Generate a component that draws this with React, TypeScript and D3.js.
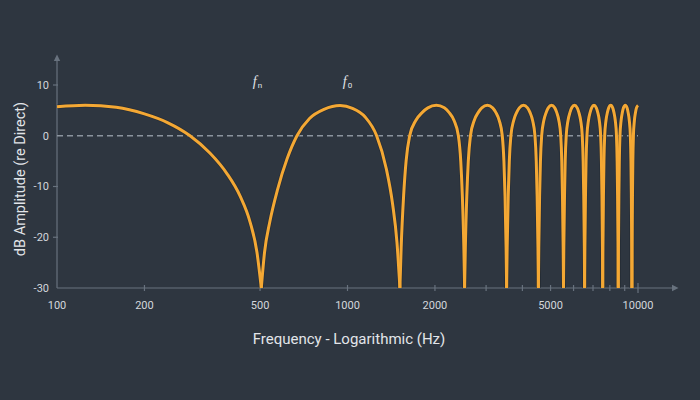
import { useRef, useEffect } from "react";
import * as d3 from "d3";

const W = 700;
const H = 400;
const BG = "#2e3640";
const CURVE = "#f4a834";
const AXIS = "#68727e";
const TEXT = "#d3d7dc";
const FONT = "Roboto, 'DejaVu Sans', sans-serif";

// first half lobe, 100 Hz down to the first null
const LOBE1_HZ = [100, 125, 160, 200, 240, 287, 336, 384, 427, 462, 488, 505];
const LOBE1_DB = [5.7, 6.0, 5.6, 4.3, 2.6, 0, -3.4, -7.4, -11.9, -17, -23, -30];

// second lobe (f0 peak)
const LOBE2_HZ = [505, 518, 540, 575, 620, 670, 740, 830, 943, 1040, 1150, 1260, 1360, 1430, 1480, 1515];
const LOBE2_DB = [-30, -23, -17, -10.5, -4.5, 0, 3.4, 5.2, 5.95, 5.4, 3.7, 0, -6.5, -13.5, -21, -30];

// nulls bounding the narrow lobes above 1.5 kHz
const NULLS_HZ = [1515, 2530, 3530, 4540, 5540, 6550, 7560, 8550, 9530];
// shape of one narrow lobe: position between two nulls (0..1) and level in dB
const LOBE_POS = [0, 0.015, 0.045, 0.075, 0.12, 0.2, 0.29, 0.37, 0.5, 0.63, 0.71, 0.8, 0.88, 0.925, 0.955, 0.985, 1];
const LOBE_DB = [-30, -22, -11.7, -5, 0, 3, 4.6, 5.5, 6, 5.5, 4.6, 3, 0, -5, -11.7, -22, -30];

// last half lobe up to 10 kHz
const LAST_HZ = [9530, 9544, 9572, 9600, 9643, 9718, 9803, 9878, 10000];
const LAST_DB = [-30, -22, -11.7, -5, 0, 3, 4.6, 5.5, 6];

const Y_TICKS = [10, 0, -10, -20, -30];
const Y_MARKS = [10, -10, -20];
const X_LABELS = [100, 200, 500, 1000, 2000, 5000, 10000];
const X_MARKS = [200, 500, 1000, 2000, 3000, 4000, 5000, 6000, 7000, 8000, 9000, 10000];

const MARKERS = [
  { hz: 490, sub: "n" },
  { hz: 1000, sub: "0" },
];

type Pt = [number, number];

const zip = (hz: number[], db: number[]): Pt[] => hz.map((f, i) => [f, db[i]]);

export default function App() {
  const svgRef = useRef<SVGSVGElement>(null);

  useEffect(() => {
    const svg = svgRef.current;
    if (!svg) return;
    const root = d3.select(svg);
    root.selectAll("*").remove();

    const x = d3.scaleLog().domain([100, 10000]).range([57, 638]);
    const y = d3.scaleLinear().domain([-30, 10]).range([288, 85]);
    const x0 = x.range()[0];
    const yBottom = y(-30);

    root.append("rect").attr("width", W).attr("height", H).attr("fill", BG);

    // axes
    root.append("line")
      .attr("x1", x0).attr("x2", x0)
      .attr("y1", yBottom).attr("y2", 60)
      .attr("stroke", AXIS).attr("stroke-width", 1.2);
    root.append("path")
      .attr("d", `M${x0 - 3.2},${61} L${x0},${54.5} L${x0 + 3.2},${61} Z`)
      .attr("fill", AXIS);

    root.append("line")
      .attr("x1", x0).attr("x2", 673)
      .attr("y1", yBottom).attr("y2", yBottom)
      .attr("stroke", AXIS).attr("stroke-width", 1.2);
    root.append("path")
      .attr("d", `M${672},${yBottom - 3.2} L${678.5},${yBottom} L${672},${yBottom + 3.2} Z`)
      .attr("fill", AXIS);

    // y ticks
    for (const t of Y_MARKS) {
      root.append("line")
        .attr("x1", x0 - 4).attr("x2", x0 + 1)
        .attr("y1", y(t)).attr("y2", y(t))
        .attr("stroke", AXIS).attr("stroke-width", 1.2);
    }
    for (const t of Y_TICKS) {
      root.append("text")
        .attr("x", 49)
        .attr("y", y(t))
        .attr("dy", "0.36em")
        .attr("text-anchor", "end")
        .attr("fill", TEXT)
        .attr("font-family", FONT)
        .attr("font-size", 11)
        .text(t);
    }

    // x ticks
    for (const t of X_MARKS) {
      const long = t === 10000;
      root.append("line")
        .attr("x1", x(t)).attr("x2", x(t))
        .attr("y1", yBottom - (long ? 5 : 3)).attr("y2", yBottom + (long ? 5 : 3))
        .attr("stroke", AXIS).attr("stroke-width", 1.2);
    }
    for (const t of X_LABELS) {
      root.append("text")
        .attr("x", x(t))
        .attr("y", 309)
        .attr("text-anchor", "middle")
        .attr("fill", TEXT)
        .attr("font-family", FONT)
        .attr("font-size", 11)
        .text(t);
    }

    // 0 dB reference
    root.append("line")
      .attr("x1", x0).attr("x2", x(10000))
      .attr("y1", y(0)).attr("y2", y(0))
      .attr("stroke", "#8b949e")
      .attr("stroke-width", 1.3)
      .attr("stroke-dasharray", "6,4");

    // axis titles
    root.append("text")
      .attr("x", 349)
      .attr("y", 344)
      .attr("text-anchor", "middle")
      .attr("fill", "#e2e5e9")
      .attr("font-family", FONT)
      .attr("font-size", 15)
      .text("Frequency - Logarithmic (Hz)");

    root.append("text")
      .attr("transform", `translate(25,179) rotate(-90)`)
      .attr("text-anchor", "middle")
      .attr("fill", "#e2e5e9")
      .attr("font-family", FONT)
      .attr("font-size", 14.5)
      .text("dB Amplitude (re Direct)");

    // markers f_n and f_0
    for (const m of MARKERS) {
      const t = root.append("text")
        .attr("x", x(m.hz))
        .attr("y", 86)
        .attr("text-anchor", "middle")
        .attr("fill", "#e2e5e9");
      t.append("tspan")
        .attr("font-family", "'Liberation Serif', serif")
        .attr("font-style", "italic")
        .attr("font-size", 14)
        .text("f");
      t.append("tspan")
        .attr("font-family", FONT)
        .attr("font-size", 8)
        .attr("dx", 1)
        .attr("dy", 1.5)
        .text(m.sub);
    }

    // curve segments
    const lobes: Pt[][] = [zip(LOBE1_HZ, LOBE1_DB), zip(LOBE2_HZ, LOBE2_DB)];
    for (let i = 0; i < NULLS_HZ.length - 1; i++) {
      const a = NULLS_HZ[i];
      const b = NULLS_HZ[i + 1];
      lobes.push(LOBE_POS.map((p, j) => [a + p * (b - a), LOBE_DB[j]] as Pt));
    }
    lobes.push(zip(LAST_HZ, LAST_DB));

    const line = d3
      .line<Pt>()
      .x((d) => x(d[0]))
      .y((d) => y(d[1]))
      .curve(d3.curveMonotoneX);

    const g = root.append("g");
    for (const lobe of lobes) {
      g.append("path")
        .attr("d", line(lobe))
        .attr("fill", "none")
        .attr("stroke", "#1f252c")
        .attr("stroke-opacity", 0.45)
        .attr("stroke-width", 4.6);
    }
    for (const lobe of lobes) {
      g.append("path")
        .attr("d", line(lobe))
        .attr("fill", "none")
        .attr("stroke", CURVE)
        .attr("stroke-width", 3)
        .attr("stroke-linejoin", "round");
    }
  }, []);

  return (
    <svg
      ref={svgRef}
      width={W}
      height={H}
      style={{ position: "absolute", left: 0, top: 0, display: "block" }}
    />
  );
}
